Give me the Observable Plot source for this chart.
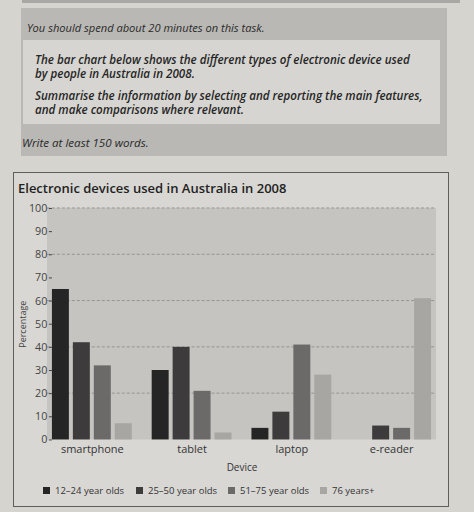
<!DOCTYPE html>
<html><head><meta charset="utf-8">
<script src="https://cdn.jsdelivr.net/npm/d3@7"></script>
<script src="https://cdn.jsdelivr.net/npm/@observablehq/plot@0.6"></script>
<style>
body{margin:0;width:474px;height:512px;background:#d5d4cf;position:relative;overflow:hidden;font-family:"Open Sans",sans-serif;color:#2a2a2a;}
#strip{position:absolute;left:22px;top:0;width:438px;height:3px;background:#a9a8a4;}
#task{position:absolute;left:21px;top:8px;width:426px;height:148px;background:#b9b8b4;}
#task .l1{position:absolute;left:6px;top:12px;font-style:italic;font-size:11.1px;white-space:nowrap;}
#inner{position:absolute;left:2px;top:32px;width:417px;height:84px;background:#d6d5d1;}
#inner p{margin:0;position:absolute;left:12px;font-style:italic;font-weight:600;font-size:11.6px;line-height:14px;white-space:nowrap;color:#262626;}
#task .l3{position:absolute;left:1px;top:127px;font-style:italic;font-size:11.6px;white-space:nowrap;}
#chartbox{position:absolute;left:13px;top:172px;width:434px;height:333px;border:1px solid #5f5e5b;background:#d8d7d3;}
#title{position:absolute;left:4px;top:6px;font-size:13px;font-weight:600;color:#222;white-space:nowrap;}
#plot{position:absolute;left:-1px;top:25px;}
#legend{position:absolute;left:0;top:311px;width:434px;height:14px;font-size:9.5px;color:#333;}
#legend .item{position:absolute;top:0;white-space:nowrap;line-height:14px;}
#legend .sw{display:inline-block;width:7px;height:7px;margin-right:5px;vertical-align:0px;}
</style></head>
<body>
<div id="strip"></div>
<div id="task">
  <div class="l1">You should spend about 20 minutes on this task.</div>
  <div id="inner">
    <p style="top:13px">The bar chart below shows the different types of electronic device used<br>by people in Australia in 2008.</p>
    <p style="top:49px">Summarise the information by selecting and reporting the main features,<br>and make comparisons where relevant.</p>
  </div>
  <div class="l3">Write at least 150 words.</div>
</div>
<div id="chartbox">
  <div id="title">Electronic devices used in Australia in 2008</div>
  <div id="plot"></div>
  <div id="legend"></div>
</div>
<script>
const devices = ["smartphone", "tablet", "laptop", "e-reader"];
const ageGroups = ["12–24 year olds", "25–50 year olds", "51–75 year olds", "76 years+"];
const v12to24 = [65, 30, 5, 0];
const v25to50 = [42, 40, 12, 6];
const v51to75 = [32, 21, 41, 5];
const v76plus = [7, 3, 28, 61];
const yTicks = [0, 10, 20, 30, 40, 50, 60, 70, 80, 90, 100];
const gridTicks = [20, 40, 60, 80, 100];
const colors = ["#252525", "#3d3b3b", "#6b6a68", "#a7a6a3"];

const series = [v12to24, v25to50, v51to75, v76plus];
const data = devices.flatMap((d, i) => ageGroups.map((a, j) => ({device: d, age: a, value: series[j][i]})));

const W = 436, H = 277, mL = 34, mR = 12, mT = 10, mB = 35;
const plot = Plot.plot({
  width: W, height: H,
  marginLeft: mL, marginRight: mR, marginTop: mT, marginBottom: mB,
  style: {background: "transparent", fontFamily: "Open Sans, sans-serif", fontSize: "10.8px", color: "#444"},
  facet: {data, x: "device"},
  fx: {domain: devices, paddingInner: 0.2, paddingOuter: 0.05, label: "Device", labelAnchor: "center", labelOffset: 31, tickSize: 0, tickPadding: 5},
  x: {domain: ageGroups, axis: null, paddingInner: 0.2, paddingOuter: 0},
  y: {domain: [0, 100], ticks: yTicks, tickSize: 3, tickPadding: 2, label: "Percentage", labelArrow: "none", labelAnchor: "center", labelOffset: 33},
  color: {domain: ageGroups, range: colors},
  marks: [
    Plot.barY(data, {x: "age", y: "value", fill: "age"})
  ]
});

// background and dashed grid drawn from the plot's own y scale
const ys = plot.scale("y");
const svg = d3.select(plot);
const bg = svg.insert("g", "g");
bg.append("rect")
  .attr("x", mL).attr("width", W - mL - mR)
  .attr("y", ys.apply(100)).attr("height", ys.apply(0) - ys.apply(100))
  .attr("fill", "#c5c4c0");
bg.selectAll("line").data(gridTicks).join("line")
  .attr("x1", mL).attr("x2", W - mR)
  .attr("y1", d => ys.apply(d)).attr("y2", d => ys.apply(d))
  .attr("stroke", "#8a8986").attr("stroke-width", 0.8).attr("stroke-dasharray", "3,2");

svg.selectAll('[aria-label^="fx-axis"] text').attr("font-size", "11px").attr("fill", "#333");
svg.selectAll('[aria-label="fx-axis label"] text, [aria-label="fx-axis label"]').attr("font-size", "10px");
svg.selectAll('[aria-label="y-axis label"] text, [aria-label="y-axis label"]').attr("font-size", "9px");
svg.selectAll("text").each(function() {
  const t = this.textContent;
  if (/[↑→]/.test(t) && this.childElementCount === 0) this.textContent = t.replace(/\s*[↑→]\s*/g, "").trim();
});

document.getElementById("plot").appendChild(plot);

// legend
const legend = d3.select("#legend");
const lx = [29, 122, 214, 306];
ageGroups.forEach((a, i) => {
  const it = legend.append("div").attr("class", "item").style("left", lx[i] + "px");
  it.append("span").attr("class", "sw").style("background", colors[i]);
  it.append("span").text(a);
});
</script>
</body></html>
